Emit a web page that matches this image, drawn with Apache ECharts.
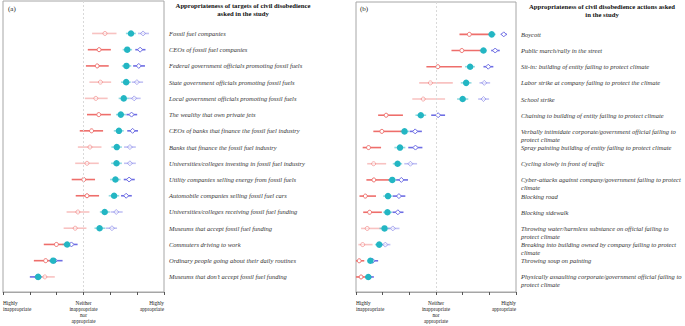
<!DOCTYPE html>
<html><head><meta charset="utf-8">
<script src="https://cdn.jsdelivr.net/npm/echarts@6.0.0/dist/echarts.min.js"></script>
<style>html,body{margin:0;padding:0;background:#fff}#c{width:685px;height:326px}</style>
</head><body><div id="c"></div>
<script>
// ---------- data ----------
const leftCategories = [
  "Fossil fuel companies",
  "CEOs of fossil fuel companies",
  "Federal government officials promoting fossil fuels",
  "State government officials promoting fossil fuels",
  "Local government officials promoting fossil fuels",
  "The wealthy that own private jets",
  "CEOs of banks that finance the fossil fuel industry",
  "Banks that finance the fossil fuel industry",
  "Universities/colleges investing in fossil fuel industry",
  "Utility companies selling energy from fossil fuels",
  "Automobile companies selling fossil fuel cars",
  "Universities/colleges receiving fossil fuel funding",
  "Museums that accept fossil fuel funding",
  "Commuters driving to work",
  "Ordinary people going about their daily routines",
  "Museums that don’t accept fossil fuel funding"
];
const leftRedMean  = [4.80,4.58,4.51,4.63,4.46,4.57,4.30,4.24,4.13,4.01,4.13,3.79,3.69,2.99,2.59,2.56];
const leftRedLow   = [4.32,4.16,4.09,4.22,4.05,4.13,3.86,3.79,3.69,3.56,3.71,3.37,3.26,2.52,2.15,2.37];
const leftRedHigh  = [5.23,5.02,4.94,5.03,4.90,5.02,4.73,4.67,4.57,4.43,4.58,4.22,4.11,3.39,3.01,2.93];
const leftTealMean = [5.77,5.63,5.60,5.59,5.50,5.39,5.32,5.24,5.23,5.19,5.14,4.79,4.60,3.39,2.87,2.31];
const leftTealLow  = [5.58,5.46,5.43,5.40,5.31,5.21,5.13,5.04,5.03,4.99,4.94,4.61,4.41,3.22,2.72,2.16];
const leftTealHigh = [5.95,5.81,5.78,5.76,5.70,5.58,5.50,5.43,5.43,5.38,5.33,4.98,4.81,3.56,3.01,2.46];
const leftBlueMean = [6.22,6.11,6.06,5.99,5.89,5.79,5.83,5.73,5.73,5.70,5.59,5.22,5.06,3.55,2.93,2.27];
const leftBlueLow  = [6.03,5.93,5.85,5.80,5.70,5.60,5.63,5.51,5.51,5.50,5.40,5.01,4.83,3.34,2.74,2.00];
const leftBlueHigh = [6.44,6.31,6.29,6.22,6.13,6.00,6.03,5.95,5.95,5.91,5.80,5.46,5.25,3.78,3.22,2.43];
const leftRedFaint  = [1,0,0,1,1,0,0,1,1,0,0,1,1,0,0,1];
const leftBlueFaint = [1,0,0,1,1,0,0,1,1,0,0,1,1,0,0,0];

const rightCategories = [
  "Boycott",
  "Public march/rally in the street",
  "Sit-in: building of entity failing to protect climate",
  "Labor strike at company failing to protect the climate",
  "School strike",
  "Chaining to building of entity failing to protect climate",
  "Verbally intimidate corporate/government official failing to\nprotect climate",
  "Spray painting building of entity failing to protect climate",
  "Cycling slowly in front of traffic",
  "Cyber-attacks against company/government failing to protect\nclimate",
  "Blocking road",
  "Blocking sidewalk",
  "Throwing water/harmless substance on official failing to\nprotect climate",
  "Breaking into building owned by company failing to protect\nclimate",
  "Throwing soup on painting",
  "Physically assaulting corporate/government official failing to\nprotect climate"
];
const rightRedMean  = [5.25,4.97,4.07,3.79,3.52,2.13,1.97,1.47,1.66,1.67,1.35,1.51,1.42,1.25,1.12,1.19];
const rightRedLow   = [4.88,4.58,3.64,3.37,3.11,1.83,1.65,1.25,1.42,1.39,1.13,1.27,1.19,1.09,0.95,0.98];
const rightRedHigh  = [6.09,5.78,4.97,4.63,4.34,2.76,2.82,1.94,2.13,2.36,1.75,1.97,1.97,1.62,1.31,1.39];
const rightTealMean = [6.09,5.78,5.28,5.13,5.00,3.43,2.82,2.65,2.56,2.36,2.20,2.18,2.07,1.87,1.54,1.46];
const rightTealLow  = [5.96,5.64,5.09,4.93,4.79,3.23,2.66,2.44,2.38,2.20,2.02,2.02,1.88,1.71,1.43,1.35];
const rightTealHigh = [6.24,5.90,5.46,5.33,5.21,3.63,2.99,2.85,2.73,2.53,2.37,2.36,2.26,2.02,1.66,1.57];
const rightBlueMean = [6.54,6.22,5.96,5.81,5.78,4.08,3.22,3.23,3.04,2.70,2.61,2.57,2.38,2.10,1.62,1.49];
const rightBlueLow  = [6.43,6.07,5.78,5.63,5.58,3.82,3.01,2.96,2.81,2.51,2.38,2.37,2.20,1.94,1.47,1.36];
const rightBlueHigh = [6.66,6.39,6.15,6.03,5.99,4.34,3.47,3.49,3.29,2.95,2.85,2.78,2.63,2.29,1.83,1.67];
const rightRedFaint  = [0,0,0,1,1,0,0,0,1,0,0,0,1,1,0,0];
const rightBlueFaint = [0,0,0,1,1,0,0,0,1,0,0,0,1,1,0,0];

const xTickLabels = {1: "Highly\ninappropriate", 4: "Neither\ninappropriate\nnor\nappropriate", 7: "Highly\nappropriate"};
const leftTitle = "Appropriateness of targets of civil disobedience\nasked in the study";
const rightTitle = "Appropriateness of civil disobedience actions asked\nin the study";

// ---------- styling ----------
const RED = '#EE6E6B', TEAL = '#23B6C3', BLUE = '#6E6EE4';
const SERIF = "'Liberation Serif', 'DejaVu Serif', serif";
const FAINT = 0.42;

function barSeries(gi, low, high, faint, color, baseOpacity) {
  return {
    type: 'custom', xAxisIndex: gi, yAxisIndex: gi, z: 2, clip: true,
    encode: {x: [1, 2], y: 0},
    data: low.map((l, i) => [i, l, high[i], faint ? faint[i] : 0]),
    renderItem: function (params, api) {
      const y = api.value(0);
      const p1 = api.coord([api.value(1), y]);
      const p2 = api.coord([api.value(2), y]);
      const op = api.value(3) ? FAINT : baseOpacity;
      return {type: 'line', shape: {x1: p1[0], y1: p1[1], x2: p2[0], y2: p2[1]},
              style: {stroke: color, lineWidth: 1.6, opacity: op}};
    }
  };
}
function pointSeries(gi, mean, faint, color, symbol, size, filled, z) {
  return {
    type: 'scatter', xAxisIndex: gi, yAxisIndex: gi, z: z, symbol: symbol, symbolSize: size,
    data: mean.map((m, i) => ({value: [m, i], itemStyle: {opacity: (faint && faint[i]) ? 0.55 : 1}})),
    itemStyle: filled ? {color: color} : {color: '#fff', borderColor: color, borderWidth: 1}
  };
}
function panel(gi, cats, rm, rl, rh, rf, tm, tl, th, bm, bl, bh, bf) {
  return [
    {type: 'scatter', xAxisIndex: gi, yAxisIndex: gi, z: 1, data: [], silent: true,
     markLine: {silent: true, symbol: 'none', label: {show: false},
                lineStyle: {type: [2, 2], color: '#d9d9d9', width: 1}, data: [{xAxis: 4}]}},
    barSeries(gi, rl, rh, rf, RED, 1),
    barSeries(gi, tl, th, null, TEAL, 0.5),
    barSeries(gi, bl, bh, bf, BLUE, 1),
    pointSeries(gi, rm, rf, RED, 'circle', 4, false, 3),
    pointSeries(gi, bm, bf, BLUE, 'diamond', 5, false, 3),
    pointSeries(gi, tm, null, TEAL, 'circle', 6.5, true, 4)
  ];
}
function xAxis(gi) {
  return {
    gridIndex: gi, type: 'value', min: 1, max: 7, interval: 1, position: 'bottom',
    axisLine: {show: true, onZero: false, lineStyle: {color: '#a6a6a6', width: 1}},
    axisTick: {show: true, length: 3, lineStyle: {color: '#555'}},
    splitLine: {show: false},
    axisLabel: {
      formatter: v => xTickLabels[v] || '',
      fontFamily: SERIF, fontSize: 5.3, lineHeight: 6, color: '#222', margin: 8,
      showMinLabel: true, showMaxLabel: true,
      alignMinLabel: 'left', alignMaxLabel: 'right'
    }
  };
}
function yAxis(gi, cats) {
  return {
    gridIndex: gi, type: 'value', inverse: true, min: -2, max: 15.93, interval: 1,
    position: 'right',
    axisLine: {show: false, onZero: false}, axisTick: {show: false}, splitLine: {show: false},
    axisLabel: {
      formatter: v => {
        if (!Number.isInteger(v) || v < 0 || v >= cats.length) return '';
        const t = cats[v];
        return t.indexOf('\n') >= 0 ? '\n' + t : t;
      },
      fontFamily: SERIF, fontStyle: 'italic', fontSize: 6.5, lineHeight: 8,
      color: '#333', align: 'left', margin: 5,
      showMinLabel: true, showMaxLabel: true
    }
  };
}

const chart = echarts.init(document.getElementById('c'), null, {renderer: 'svg', width: 685, height: 326});
chart.setOption({
  animation: false,
  backgroundColor: '#fff',
  grid: [
    {left: 3, top: 1, width: 161, height: 291, show: true, borderColor: '#a6a6a6', borderWidth: 1,
     containLabel: false, outerBoundsMode: 'none'},
    {left: 356, top: 2, width: 160, height: 290, show: true, borderColor: '#a6a6a6', borderWidth: 1,
     containLabel: false, outerBoundsMode: 'none'}
  ],
  xAxis: [xAxis(0), xAxis(1)],
  yAxis: [yAxis(0, leftCategories), yAxis(1, rightCategories)],
  graphic: [
    {type: 'text', x: 243, y: 1, style: {text: leftTitle, textAlign: 'center', fontFamily: SERIF,
      fontWeight: 'bold', fontSize: 6.7, lineHeight: 8, fill: '#111'}},
    {type: 'text', x: 602, y: 2, style: {text: rightTitle, textAlign: 'center', fontFamily: SERIF,
      fontWeight: 'bold', fontSize: 6.7, lineHeight: 8, fill: '#111'}},
    {type: 'text', x: 8, y: 5, style: {text: '(a)', fontFamily: SERIF, fontSize: 7, fill: '#222'}},
    {type: 'text', x: 360, y: 5, style: {text: '(b)', fontFamily: SERIF, fontSize: 7, fill: '#222'}}
  ],
  series: [
    ...panel(0, leftCategories, leftRedMean, leftRedLow, leftRedHigh, leftRedFaint,
             leftTealMean, leftTealLow, leftTealHigh, leftBlueMean, leftBlueLow, leftBlueHigh, leftBlueFaint),
    ...panel(1, rightCategories, rightRedMean, rightRedLow, rightRedHigh, rightRedFaint,
             rightTealMean, rightTealLow, rightTealHigh, rightBlueMean, rightBlueLow, rightBlueHigh, rightBlueFaint)
  ]
});
</script>
</body></html>
